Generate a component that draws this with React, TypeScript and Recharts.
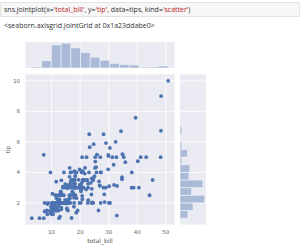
import React from 'react';
import { ScatterChart, Scatter, XAxis, YAxis, CartesianGrid, ReferenceArea } from 'recharts';

// tips dataset: total_bill and tip
const totalBill: number[] = [
  16.99, 10.34, 21.01, 23.68, 24.59, 25.29, 8.77, 26.88, 15.04, 14.78, 10.27, 35.26, 15.42, 18.43, 14.83, 21.58,
  10.33, 16.29, 16.97, 20.65, 17.92, 20.29, 15.77, 39.42, 19.82, 17.81, 13.37, 12.69, 21.7, 19.65, 9.55, 18.35,
  15.06, 20.69, 17.78, 24.06, 16.31, 16.93, 18.69, 31.27, 16.04, 17.46, 13.94, 9.68, 30.4, 18.29, 22.23, 32.4,
  28.55, 18.04, 12.54, 10.29, 34.81, 9.94, 25.56, 19.49, 38.01, 26.41, 11.24, 48.27, 20.29, 13.81, 11.02, 18.29,
  17.59, 20.08, 16.45, 3.07, 20.23, 15.01, 12.02, 17.07, 26.86, 25.28, 14.73, 10.51, 17.92, 27.2, 22.76, 17.29,
  19.44, 16.66, 10.07, 32.68, 15.98, 34.83, 13.03, 18.28, 24.71, 21.16, 28.97, 22.49, 5.75, 16.32, 22.75, 40.17,
  27.28, 12.03, 21.01, 12.46, 11.35, 15.38, 44.3, 22.42, 20.92, 15.36, 20.49, 25.21, 18.24, 14.31, 14.0, 7.25,
  38.07, 23.95, 25.71, 17.31, 29.93, 10.65, 12.43, 24.08, 11.69, 13.42, 14.26, 15.95, 12.48, 29.8, 8.52, 14.52,
  11.38, 22.82, 19.08, 20.27, 11.17, 12.26, 18.26, 8.51, 10.33, 14.15, 16.0, 13.16, 17.47, 34.3, 41.19, 27.05,
  16.43, 8.35, 18.64, 11.87, 9.78, 7.51, 14.07, 13.13, 17.26, 24.55, 19.77, 29.85, 48.17, 25.0, 13.39, 16.49,
  21.5, 12.66, 16.21, 13.81, 17.51, 24.52, 20.76, 31.71, 10.59, 10.63, 50.81, 15.81, 7.25, 31.85, 16.82, 32.9,
  17.89, 14.48, 9.6, 34.63, 34.65, 23.33, 45.35, 23.17, 40.55, 20.69, 20.9, 30.46, 18.15, 23.1, 15.69, 19.81,
  28.44, 15.48, 16.58, 7.56, 10.34, 43.11, 13.0, 13.51, 18.71, 12.74, 13.0, 16.4, 20.53, 16.47, 26.59, 38.73,
  24.27, 12.76, 30.06, 25.89, 48.33, 13.27, 28.17, 12.9, 28.15, 11.59, 7.74, 30.14, 12.16, 13.42, 8.58, 15.98,
  13.42, 16.27, 10.09, 20.45, 13.28, 22.12, 24.01, 15.69, 11.61, 10.77, 15.53, 10.07, 12.6, 32.83, 35.83, 29.03,
  27.18, 22.67, 17.82, 18.78,
];
const tips: number[] = [
  1.01, 1.66, 3.5, 3.31, 3.61, 4.71, 2.0, 3.12, 1.96, 3.23, 1.71, 5.0, 1.57, 3.0, 3.02, 3.92,
  1.67, 3.71, 3.5, 3.35, 4.08, 2.75, 2.23, 7.58, 3.18, 2.34, 2.0, 2.0, 4.3, 3.0, 1.45, 2.5,
  3.0, 2.45, 3.27, 3.6, 2.0, 3.07, 2.31, 5.0, 2.24, 2.54, 3.06, 1.32, 5.6, 3.0, 5.0, 6.0,
  2.05, 3.0, 2.5, 2.6, 5.2, 1.56, 4.34, 3.51, 3.0, 1.5, 1.76, 6.73, 3.21, 2.0, 1.98, 3.76,
  2.64, 3.15, 2.47, 1.0, 2.01, 2.09, 1.97, 3.0, 3.14, 5.0, 2.2, 1.25, 3.08, 4.0, 3.0, 2.71,
  3.0, 3.4, 1.83, 5.0, 2.03, 5.17, 2.0, 4.0, 5.85, 3.0, 3.0, 3.5, 1.0, 4.3, 3.25, 4.73,
  4.0, 1.5, 3.0, 1.5, 2.5, 3.0, 2.5, 3.48, 4.08, 1.64, 4.06, 4.29, 3.76, 4.0, 3.0, 1.0,
  4.0, 2.55, 4.0, 3.5, 5.07, 1.5, 1.8, 2.92, 2.31, 1.68, 2.5, 2.0, 2.52, 4.2, 1.48, 2.0,
  2.0, 2.18, 1.5, 2.83, 1.5, 2.0, 3.25, 1.25, 2.0, 2.0, 2.0, 2.75, 3.5, 6.7, 5.0, 5.0,
  2.3, 1.5, 1.36, 1.63, 1.73, 2.0, 2.5, 2.0, 2.74, 2.0, 2.0, 5.14, 5.0, 3.75, 2.61, 2.0,
  3.5, 2.5, 2.0, 2.0, 3.0, 3.48, 2.24, 4.5, 1.61, 2.0, 10.0, 3.16, 5.15, 3.18, 4.0, 3.11,
  2.0, 2.0, 4.0, 3.55, 3.68, 5.65, 3.5, 6.5, 3.0, 5.0, 3.5, 2.0, 3.5, 4.0, 1.5, 4.19,
  2.56, 2.02, 4.0, 1.44, 2.0, 5.0, 2.0, 2.0, 4.0, 2.01, 2.0, 2.5, 4.0, 3.23, 3.41, 3.0,
  2.03, 2.23, 2.0, 5.16, 9.0, 2.5, 6.5, 1.1, 3.0, 1.5, 1.44, 3.09, 2.2, 3.48, 1.92, 3.0,
  1.58, 2.5, 2.0, 3.0, 2.72, 2.88, 2.0, 3.0, 3.39, 1.47, 3.0, 1.25, 1.0, 1.17, 4.67, 5.92,
  2.0, 2.0, 1.75, 3.0,
];

const xTicks = [10, 20, 30, 40, 50];
const yTicks = [2, 4, 6, 8, 10];
const xBinCount = 14;
const yBinCount = 18;

const codeParts: { t: string; c: string }[] = [
  { t: 'sns.jointplot(x=', c: '#333' },
  { t: "'total_bill'", c: '#BA2121' },
  { t: ', y=', c: '#333' },
  { t: "'tip'", c: '#BA2121' },
  { t: ', data=tips, kind=', c: '#333' },
  { t: "'scatter'", c: '#BA2121' },
  { t: ')', c: '#333' },
];
const outputText = '<seaborn.axisgrid.JointGrid at 0x1a23ddabe0>';

const BLUE = '#4C72B0';
const BG = '#EAEAF2';

function padDomain(v: number[]): [number, number] {
  const lo = Math.min(...v);
  const hi = Math.max(...v);
  const m = (hi - lo) * 0.05;
  return [lo - m, hi + m];
}

function histogram(values: number[], n: number) {
  const lo = Math.min(...values);
  const hi = Math.max(...values);
  const w = (hi - lo) / n;
  const counts = new Array(n).fill(0);
  for (const v of values) {
    let i = Math.floor((v - lo) / w + 1e-9);
    if (i >= n) i = n - 1;
    counts[i]++;
  }
  return counts.map((c, i) => ({ lo: lo + i * w, hi: lo + (i + 1) * w, mid: lo + (i + 0.5) * w, count: c }));
}

const points = totalBill.map((x, i) => ({ x, y: tips[i] }));
const xDomain = padDomain(totalBill);
const yDomain = padDomain(tips);
const xBins = histogram(totalBill, xBinCount);
const yBins = histogram(tips, yBinCount);
const xMaxCount = Math.max(...xBins.map((b) => b.count)) * 1.05;
const yMaxCount = Math.max(...yBins.map((b) => b.count)) * 1.05;

const tickStyle = { fontSize: 5.5, fill: '#666', fontFamily: 'DejaVu Sans, sans-serif' };
const Nothing = () => <g />;

export default function App() {
  return (
    <div style={{ position: 'absolute', left: 0, top: 0, width: 300, height: 250, background: '#fff', overflow: 'hidden', fontFamily: '"Open Sans", sans-serif' }}>
      <div style={{ position: 'absolute', left: 0, top: 2, width: 300, height: 15, background: '#f7f7f7', border: '1px solid #e3e3e3', boxSizing: 'border-box' }} />
      <div style={{ position: 'absolute', left: 4, top: 5, fontSize: 7, lineHeight: '10px', whiteSpace: 'pre' }}>
        {codeParts.map((p, i) => (
          <span key={i} style={{ color: p.c }}>{p.t}</span>
        ))}
      </div>
      <div style={{ position: 'absolute', left: 4, top: 21, fontSize: 7, lineHeight: '10px', color: '#333', whiteSpace: 'pre' }}>
        {outputText}
      </div>

      {/* top marginal histogram */}
      <div style={{ position: 'absolute', left: 0, top: 36 }}>
        <ScatterChart width={180} height={40} margin={{ top: 6, right: 5, bottom: 8, left: 25 }}>
          <CartesianGrid fill={BG} stroke="#fff" strokeWidth={0.8} horizontal={false} />
          <XAxis type="number" dataKey="mid" domain={xDomain} ticks={xTicks} allowDataOverflow hide />
          <YAxis type="number" dataKey="count" domain={[0, xMaxCount]} allowDataOverflow hide />
          <Scatter data={xBins} shape={Nothing} isAnimationActive={false} />
          {xBins.map((b, i) => (
            <ReferenceArea key={i} x1={b.lo} x2={b.hi} y1={0} y2={b.count} fill={BLUE} fillOpacity={0.4} stroke="#fff" strokeWidth={0.5} strokeOpacity={1} />
          ))}
        </ScatterChart>
      </div>

      {/* main scatter */}
      <div style={{ position: 'absolute', left: 0, top: 60 }}>
        <ScatterChart width={180} height={190} margin={{ top: 14, right: 5, bottom: 0, left: 0 }}>
          <CartesianGrid fill={BG} stroke="#fff" strokeWidth={0.8} />
          <XAxis
            type="number"
            dataKey="x"
            domain={xDomain}
            ticks={xTicks}
            allowDataOverflow
            tickLine={false}
            axisLine={false}
            tickSize={0}
            tickMargin={5}
            height={25}
            tick={tickStyle}
            label={{
              content: (p: any) => (
                <text x={p.viewBox.x + p.viewBox.width / 2} y={p.viewBox.y + 18} textAnchor="middle" fontSize={6} fill="#555" fontFamily="DejaVu Sans, sans-serif">
                  total_bill
                </text>
              ),
            }}
          />
          <YAxis
            type="number"
            dataKey="y"
            domain={yDomain}
            ticks={yTicks}
            allowDataOverflow
            tickLine={false}
            axisLine={false}
            tickSize={0}
            tickMargin={5}
            width={25}
            tick={tickStyle}
            label={{
              content: (p: any) => {
                const cx = p.viewBox.x + 10;
                const cy = p.viewBox.y + p.viewBox.height / 2;
                return (
                  <text x={cx} y={cy} transform={`rotate(-90 ${cx} ${cy})`} textAnchor="middle" fontSize={6} fill="#555" fontFamily="DejaVu Sans, sans-serif">
                    tip
                  </text>
                );
              },
            }}
          />
          <Scatter
            data={points}
            isAnimationActive={false}
            shape={(p: any) => <circle cx={p.cx} cy={p.cy} r={1.9} fill={BLUE} />}
          />
        </ScatterChart>
      </div>

      {/* right marginal histogram */}
      <div style={{ position: 'absolute', left: 176, top: 60 }}>
        <ScatterChart width={40} height={190} margin={{ top: 14, right: 10, bottom: 25, left: 4 }}>
          <CartesianGrid fill={BG} stroke="#fff" strokeWidth={0.8} vertical={false} />
          <XAxis type="number" dataKey="count" domain={[0, yMaxCount]} allowDataOverflow hide />
          <YAxis type="number" dataKey="mid" domain={yDomain} ticks={yTicks} allowDataOverflow hide />
          <Scatter data={yBins} shape={Nothing} isAnimationActive={false} />
          {yBins.map((b, i) => (
            <ReferenceArea key={i} x1={0} x2={b.count} y1={b.lo} y2={b.hi} fill={BLUE} fillOpacity={0.4} stroke="#fff" strokeWidth={0.5} strokeOpacity={1} />
          ))}
        </ScatterChart>
      </div>
    </div>
  );
}
